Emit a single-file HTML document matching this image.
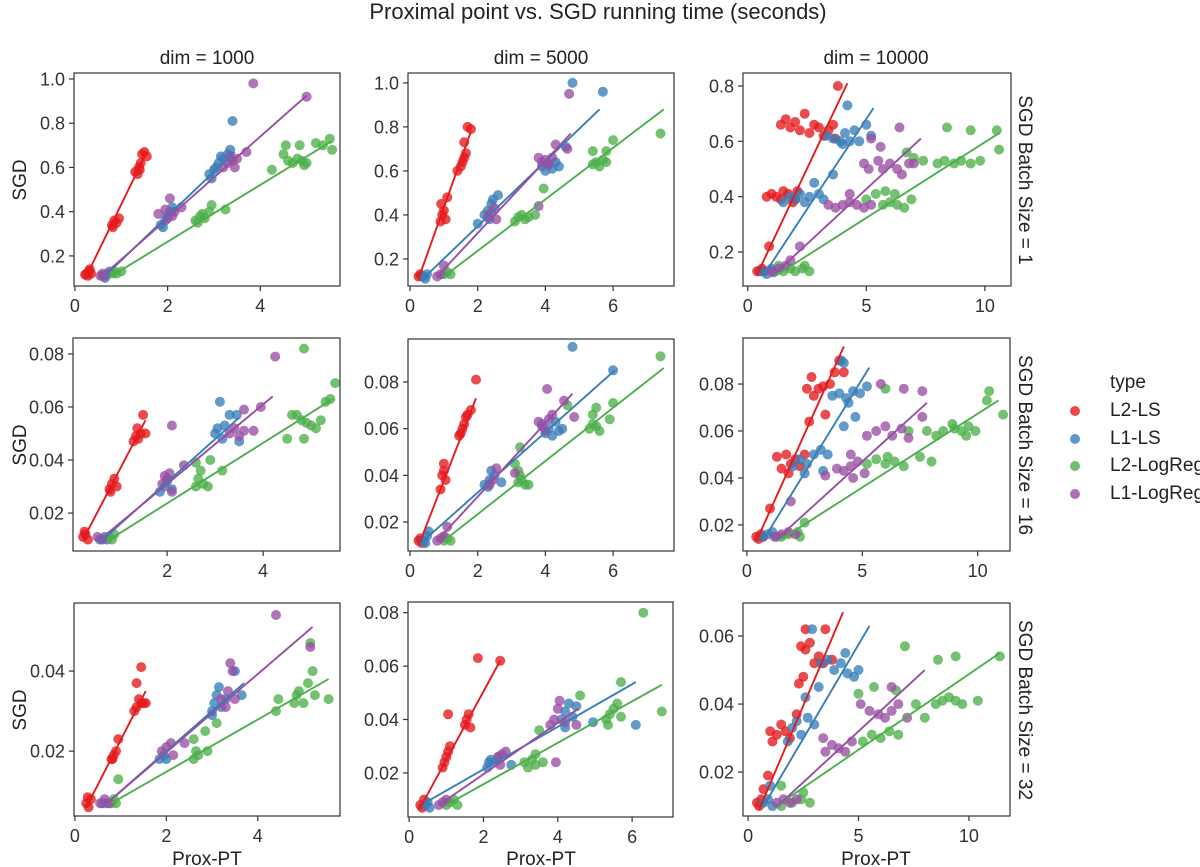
<!DOCTYPE html>
<html><head><meta charset="utf-8"><style>
html,body{margin:0;padding:0;background:#fff;}
svg{display:block;font-family:"Liberation Sans",sans-serif;}
</style></head><body>
<svg id="chart" width="1200" height="867" viewBox="0 0 1200 867" xmlns="http://www.w3.org/2000/svg">
<text x="598" y="19" font-size="22" text-anchor="middle" fill="#222">Proximal point vs. SGD running time (seconds)</text>
<text x="207" y="64" font-size="19" text-anchor="middle" fill="#222">dim = 1000</text>
<text x="541" y="64" font-size="19" text-anchor="middle" fill="#222">dim = 5000</text>
<text x="876" y="64" font-size="19" text-anchor="middle" fill="#222">dim = 10000</text>
<text transform="translate(1019,180) rotate(90)" font-size="19" text-anchor="middle" fill="#222">SGD Batch Size = 1</text>
<text transform="translate(1019,445) rotate(90)" font-size="19" text-anchor="middle" fill="#222">SGD Batch Size = 16</text>
<text transform="translate(1019,710) rotate(90)" font-size="19" text-anchor="middle" fill="#222">SGD Batch Size = 32</text>
<text transform="translate(26,180) rotate(-90)" font-size="19" text-anchor="middle" fill="#222">SGD</text>
<text transform="translate(26,445) rotate(-90)" font-size="19" text-anchor="middle" fill="#222">SGD</text>
<text transform="translate(26,710) rotate(-90)" font-size="19" text-anchor="middle" fill="#222">SGD</text>
<text x="207" y="865" font-size="19" text-anchor="middle" fill="#222">Prox-PT</text>
<text x="541" y="865" font-size="19" text-anchor="middle" fill="#222">Prox-PT</text>
<text x="876" y="865" font-size="19" text-anchor="middle" fill="#222">Prox-PT</text>
<g>
<text x="1110" y="388" font-size="19" fill="#222">type</text>
<circle cx="1075" cy="411" r="5" fill="#e41a1c" fill-opacity="0.8"/>
<text x="1110" y="416" font-size="19" fill="#222">L2-LS</text>
<circle cx="1075" cy="439" r="5" fill="#377eb8" fill-opacity="0.8"/>
<text x="1110" y="444" font-size="19" fill="#222">L1-LS</text>
<circle cx="1075" cy="466" r="5" fill="#4daf4a" fill-opacity="0.8"/>
<text x="1110" y="471" font-size="19" fill="#222">L2-LogReg</text>
<circle cx="1075" cy="494" r="5" fill="#984ea3" fill-opacity="0.8"/>
<text x="1110" y="499" font-size="19" fill="#222">L1-LogReg</text>
</g>
</svg>
<script>
const seriesNames = ["L2-LS","L1-LS","L2-LogReg","L1-LogReg"];
const seriesColors = ["#e41a1c","#377eb8","#4daf4a","#984ea3"];

// r1c1 dim=1000 batch=1
const r1c1_l2ls = [[0.25,0.12],[0.3,0.13],[0.28,0.11],[0.35,0.12],[0.22,0.115],[0.32,0.14],[0.8,0.34],[0.85,0.36],[0.9,0.35],[0.95,0.37],[0.82,0.33],[1.3,0.58],[1.35,0.57],[1.38,0.6],[1.42,0.62],[1.45,0.66],[1.5,0.67],[1.55,0.65],[1.4,0.59]];
const r1c1_l1ls = [[0.6,0.11],[0.7,0.12],[0.75,0.13],[0.65,0.1],[1.85,0.34],[1.95,0.36],[2.0,0.38],[2.05,0.4],[1.9,0.33],[2.1,0.42],[2.9,0.57],[3.0,0.59],[3.05,0.6],[3.1,0.62],[3.2,0.64],[3.3,0.66],[3.35,0.68],[3.4,0.81],[3.15,0.65],[2.95,0.55]];
const r1c1_l2lr = [[0.8,0.12],[0.85,0.13],[0.9,0.12],[1.0,0.13],[2.6,0.36],[2.7,0.38],[2.75,0.39],[2.8,0.37],[2.9,0.4],[2.95,0.43],[2.65,0.35],[3.25,0.41],[4.25,0.59],[4.5,0.66],[4.55,0.7],[4.7,0.62],[4.8,0.64],[4.9,0.63],[4.95,0.61],[5.0,0.62],[4.85,0.7],[5.2,0.71],[5.35,0.7],[5.5,0.73],[5.55,0.68],[4.6,0.63]];
const r1c1_l1lr = [[0.55,0.11],[0.6,0.12],[0.65,0.11],[1.8,0.39],[1.95,0.41],[2.05,0.46],[2.1,0.38],[2.15,0.4],[2.3,0.42],[2.0,0.37],[3.2,0.6],[3.3,0.62],[3.4,0.63],[3.45,0.6],[3.35,0.65],[3.5,0.64],[3.7,0.67],[3.85,0.98],[5.0,0.92]];
const r1c1_fits = [[0.25,0.11,1.55,0.67],[0.6,0.1,3.45,0.67],[0.8,0.11,5.55,0.72],[0.6,0.11,5.0,0.925]];

// r1c2 dim=5000 batch=1
const r1c2_l2ls = [[0.25,0.12],[0.3,0.13],[0.35,0.12],[0.9,0.37],[0.95,0.4],[1.0,0.42],[0.92,0.45],[1.05,0.38],[1.1,0.48],[1.4,0.6],[1.5,0.62],[1.55,0.64],[1.6,0.66],[1.65,0.68],[1.6,0.73],[1.7,0.8],[1.8,0.79]];
const r1c2_l1ls = [[0.4,0.12],[0.45,0.11],[0.5,0.13],[2.0,0.36],[2.2,0.4],[2.3,0.42],[2.4,0.45],[2.45,0.47],[2.6,0.49],[2.35,0.38],[3.9,0.62],[4.0,0.6],[4.1,0.63],[4.2,0.61],[4.3,0.64],[4.4,0.62],[4.6,0.71],[4.8,1.0],[5.7,0.96]];
const r1c2_l2lr = [[1.0,0.13],[1.1,0.14],[1.2,0.13],[3.1,0.37],[3.2,0.39],[3.3,0.4],[3.4,0.38],[3.5,0.39],[3.7,0.4],[3.95,0.52],[5.4,0.63],[5.5,0.64],[5.6,0.62],[5.7,0.65],[5.8,0.64],[5.4,0.69],[5.8,0.69],[6.0,0.74],[7.4,0.77]];
const r1c2_l1lr = [[0.8,0.12],[0.9,0.13],[1.0,0.17],[2.3,0.39],[2.4,0.41],[2.5,0.43],[2.55,0.38],[3.8,0.66],[3.9,0.64],[4.0,0.65],[4.1,0.63],[4.2,0.66],[4.3,0.72],[4.65,0.7],[4.7,0.95],[3.8,0.44]];
const r1c2_fits = [[0.25,0.11,1.8,0.78],[0.45,0.12,5.6,0.88],[1.0,0.12,7.5,0.88],[0.8,0.12,4.75,0.77]];

// r1c3 dim=10000 batch=1
const r1c3_l2ls = [[0.4,0.13],[0.5,0.13],[0.6,0.14],[0.7,0.13],[0.9,0.22],[0.8,0.4],[1.0,0.41],[1.2,0.4],[1.4,0.39],[1.5,0.42],[1.7,0.41],[1.9,0.38],[2.1,0.42],[2.0,0.39],[1.4,0.66],[1.6,0.68],[1.8,0.65],[2.0,0.67],[2.2,0.64],[2.4,0.7],[2.6,0.63],[2.8,0.66],[3.0,0.65],[3.2,0.62],[3.4,0.64],[3.6,0.66],[3.8,0.8],[3.7,0.61]];
const r1c3_l1ls = [[0.6,0.13],[0.8,0.12],[1.0,0.14],[1.1,0.13],[1.5,0.38],[1.8,0.4],[2.0,0.39],[2.2,0.41],[2.4,0.38],[2.6,0.4],[2.8,0.45],[3.0,0.41],[3.2,0.39],[3.6,0.48],[3.3,0.62],[3.6,0.61],[3.9,0.6],[4.1,0.63],[4.3,0.6],[4.5,0.64],[4.7,0.6],[5.0,0.66],[5.2,0.62],[4.0,0.59],[4.2,0.73]];
const r1c3_l2lr = [[1.5,0.13],[1.8,0.14],[2.0,0.13],[2.3,0.14],[2.6,0.13],[2.4,0.15],[1.3,0.15],[5.0,0.39],[5.4,0.41],[5.7,0.37],[6.0,0.38],[6.3,0.37],[6.6,0.36],[6.9,0.39],[5.8,0.42],[6.2,0.41],[7.0,0.54],[7.4,0.53],[8.0,0.52],[8.3,0.53],[8.7,0.52],[9.0,0.53],[9.4,0.52],[9.8,0.53],[8.4,0.65],[9.4,0.64],[10.5,0.64],[10.6,0.57],[6.7,0.56]];
const r1c3_l1lr = [[1.0,0.13],[1.3,0.14],[1.6,0.15],[1.8,0.17],[2.2,0.22],[3.4,0.37],[3.7,0.36],[4.0,0.37],[4.3,0.38],[4.6,0.37],[4.9,0.36],[5.2,0.37],[4.3,0.41],[4.9,0.52],[5.1,0.5],[5.5,0.53],[5.7,0.5],[6.0,0.52],[6.3,0.5],[6.5,0.48],[6.8,0.52],[5.6,0.58],[5.2,0.61],[6.4,0.65],[7.0,0.52]];
const r1c3_fits = [[0.4,0.12,4.2,0.81],[0.7,0.12,5.3,0.72],[1.1,0.11,10.6,0.63],[1.0,0.11,7.3,0.61]];

// r2c1 dim=1000 batch=16
const r2c1_l2ls = [[0.25,0.011],[0.3,0.012],[0.35,0.01],[0.28,0.013],[0.8,0.029],[0.85,0.031],[0.9,0.033],[0.95,0.03],[0.82,0.028],[1.3,0.047],[1.35,0.049],[1.4,0.048],[1.45,0.05],[1.5,0.057],[1.55,0.05],[1.38,0.052]];
const r2c1_l1ls = [[0.6,0.01],[0.7,0.011],[0.75,0.01],[1.85,0.028],[1.95,0.03],[2.0,0.032],[2.1,0.029],[3.0,0.05],[3.05,0.052],[3.1,0.062],[3.15,0.048],[3.2,0.053],[3.3,0.057],[3.45,0.057],[3.5,0.047]];
const r2c1_l2lr = [[0.8,0.011],[0.85,0.01],[0.9,0.012],[2.6,0.03],[2.65,0.033],[2.7,0.036],[2.75,0.031],[2.6,0.039],[2.9,0.04],[2.85,0.03],[3.15,0.036],[4.5,0.048],[4.6,0.057],[4.7,0.057],[4.8,0.055],[4.85,0.048],[4.9,0.054],[5.0,0.053],[5.1,0.052],[4.85,0.082],[5.3,0.062],[5.4,0.063],[5.5,0.069],[5.2,0.055]];
const r2c1_l1lr = [[0.55,0.011],[0.65,0.01],[1.9,0.031],[1.95,0.034],[2.0,0.033],[2.05,0.035],[2.1,0.028],[2.1,0.053],[2.35,0.038],[3.3,0.05],[3.4,0.052],[3.5,0.049],[3.6,0.051],[3.6,0.059],[3.8,0.051],[3.95,0.06],[4.25,0.079]];
const r2c1_fits = [[0.25,0.01,1.55,0.055],[0.6,0.009,3.5,0.056],[0.8,0.01,5.45,0.063],[0.6,0.01,4.2,0.064]];

// r2c2 dim=5000 batch=16
const r2c2_l2ls = [[0.25,0.012],[0.3,0.013],[0.35,0.011],[0.9,0.034],[0.95,0.04],[1.0,0.042],[1.05,0.038],[1.0,0.045],[1.5,0.058],[1.55,0.06],[1.6,0.062],[1.65,0.065],[1.7,0.066],[1.8,0.068],[1.45,0.057],[1.95,0.081]];
const r2c2_l1ls = [[0.4,0.012],[0.45,0.011],[0.5,0.014],[0.55,0.016],[2.3,0.035],[2.35,0.038],[2.4,0.042],[2.5,0.04],[2.2,0.036],[2.7,0.037],[3.9,0.062],[4.0,0.058],[4.1,0.06],[4.2,0.057],[4.3,0.063],[4.4,0.059],[4.5,0.06],[4.8,0.095],[6.0,0.085]];
const r2c2_l2lr = [[1.0,0.012],[1.1,0.013],[1.2,0.012],[3.1,0.045],[3.2,0.037],[3.25,0.04],[3.3,0.038],[3.4,0.036],[3.5,0.036],[3.25,0.052],[3.2,0.042],[5.3,0.06],[5.4,0.062],[5.5,0.061],[5.4,0.066],[5.5,0.069],[5.6,0.059],[5.9,0.064],[6.0,0.071],[4.65,0.07],[7.4,0.091]];
const r2c2_l1lr = [[0.8,0.012],[0.9,0.013],[1.0,0.014],[1.1,0.018],[2.35,0.036],[2.45,0.038],[2.55,0.043],[3.1,0.041],[3.8,0.063],[3.9,0.061],[4.0,0.059],[4.1,0.064],[4.05,0.077],[4.55,0.072],[4.85,0.065],[4.2,0.066]];
const r2c2_fits = [[0.28,0.011,1.95,0.073],[0.4,0.012,6.05,0.085],[1.0,0.012,7.5,0.086],[0.8,0.012,4.8,0.075]];

// r2c3 dim=10000 batch=16
const r2c3_l2ls = [[0.4,0.015],[0.5,0.014],[0.6,0.016],[0.7,0.015],[1.0,0.027],[1.3,0.049],[1.5,0.044],[1.7,0.05],[1.9,0.046],[2.1,0.048],[2.3,0.045],[2.5,0.05],[1.8,0.042],[2.7,0.064],[2.9,0.075],[3.1,0.078],[3.3,0.079],[2.6,0.078],[3.6,0.08],[3.8,0.085],[4.0,0.09],[4.2,0.085],[2.8,0.083],[3.4,0.067]];
const r2c3_l1ls = [[0.7,0.015],[0.9,0.016],[1.1,0.017],[1.3,0.015],[2.0,0.045],[2.3,0.048],[2.6,0.046],[2.9,0.05],[3.2,0.052],[3.5,0.05],[2.5,0.042],[3.3,0.043],[3.7,0.075],[4.0,0.076],[4.3,0.074],[4.6,0.077],[4.9,0.076],[5.2,0.079],[4.4,0.072],[4.7,0.066],[4.1,0.09],[4.2,0.089],[4.2,0.062]];
const r2c3_l2lr = [[1.5,0.015],[1.8,0.016],[2.2,0.017],[2.5,0.021],[2.3,0.015],[5.2,0.046],[5.6,0.048],[6.0,0.046],[6.4,0.047],[6.8,0.045],[6.1,0.049],[7.5,0.049],[8.0,0.047],[6.0,0.078],[7.8,0.06],[8.2,0.058],[8.5,0.06],[9.0,0.061],[9.3,0.06],[9.6,0.062],[9.9,0.06],[8.9,0.063],[9.5,0.058],[10.4,0.073],[10.5,0.077],[11.1,0.067],[7.0,0.06]];
const r2c3_l1lr = [[1.2,0.015],[1.5,0.016],[1.8,0.017],[2.1,0.016],[1.9,0.03],[3.4,0.041],[3.9,0.044],[4.2,0.043],[4.5,0.045],[4.8,0.047],[4.6,0.04],[5.1,0.042],[4.5,0.05],[5.2,0.058],[5.6,0.06],[6.0,0.062],[6.3,0.058],[6.7,0.061],[7.0,0.057],[5.8,0.08],[6.8,0.078],[7.6,0.077],[7.6,0.066]];
const r2c3_fits = [[0.45,0.014,4.2,0.096],[0.8,0.015,5.3,0.087],[1.5,0.014,10.9,0.073],[1.3,0.014,7.8,0.072]];

// r3c1 dim=1000 batch=32
const r3c1_l2ls = [[0.25,0.007],[0.3,0.006],[0.35,0.008],[0.28,0.0085],[0.8,0.018],[0.85,0.019],[0.9,0.02],[0.95,0.023],[0.82,0.018],[1.3,0.03],[1.35,0.031],[1.4,0.033],[1.45,0.032],[1.5,0.032],[1.35,0.037],[1.45,0.041],[1.55,0.032]];
const r3c1_l1ls = [[0.6,0.007],[0.7,0.007],[1.85,0.018],[1.95,0.019],[2.0,0.018],[3.0,0.03],[3.05,0.032],[3.1,0.034],[3.15,0.036],[3.2,0.031],[3.3,0.033],[3.5,0.04],[3.65,0.034],[3.0,0.029]];
const r3c1_l2lr = [[0.8,0.007],[0.85,0.008],[0.9,0.007],[0.95,0.013],[2.6,0.018],[2.65,0.02],[2.7,0.019],[2.6,0.023],[2.85,0.025],[2.9,0.02],[3.1,0.027],[4.4,0.03],[4.45,0.033],[4.8,0.032],[4.85,0.034],[4.9,0.035],[5.0,0.032],[5.1,0.037],[5.15,0.047],[5.2,0.04],[5.25,0.034],[5.55,0.033]];
const r3c1_l1lr = [[0.55,0.007],[0.65,0.008],[0.75,0.007],[1.9,0.02],[2.0,0.021],[2.1,0.022],[2.15,0.019],[2.4,0.022],[3.2,0.033],[3.3,0.031],[3.35,0.035],[3.4,0.042],[3.45,0.04],[3.5,0.033],[4.4,0.054],[5.15,0.046]];
const r3c1_fits = [[0.25,0.006,1.55,0.035],[0.6,0.006,3.7,0.037],[0.8,0.007,5.55,0.038],[0.6,0.006,5.2,0.051]];

// r3c2 dim=5000 batch=32
const r3c2_l2ls = [[0.3,0.008],[0.35,0.007],[0.4,0.01],[0.9,0.022],[0.95,0.024],[1.0,0.026],[1.05,0.028],[1.1,0.03],[1.05,0.042],[1.5,0.038],[1.55,0.04],[1.6,0.042],[1.65,0.037],[1.85,0.063],[2.45,0.062]];
const r3c2_l1ls = [[0.45,0.008],[0.5,0.009],[0.55,0.007],[2.1,0.022],[2.2,0.025],[2.3,0.024],[2.4,0.026],[2.15,0.024],[2.75,0.023],[4.1,0.04],[4.2,0.043],[4.3,0.046],[4.4,0.041],[4.5,0.045],[4.95,0.039],[6.1,0.038],[4.2,0.037]];
const r3c2_l2lr = [[1.0,0.008],[1.1,0.009],[1.2,0.01],[1.3,0.008],[3.1,0.024],[3.2,0.022],[3.3,0.025],[3.4,0.027],[3.5,0.036],[3.6,0.024],[3.4,0.023],[5.3,0.04],[5.4,0.042],[5.5,0.044],[5.35,0.038],[5.6,0.046],[5.7,0.041],[4.6,0.049],[5.7,0.054],[6.3,0.08],[6.8,0.043]];
const r3c2_l1lr = [[0.8,0.008],[0.9,0.009],[1.0,0.01],[2.4,0.026],[2.5,0.027],[2.6,0.028],[2.45,0.023],[3.8,0.038],[3.9,0.04],[4.0,0.044],[4.05,0.047],[4.2,0.039],[4.5,0.038],[3.95,0.024]];
const r3c2_fits = [[0.3,0.007,2.45,0.062],[0.45,0.009,6.1,0.054],[1.0,0.008,6.8,0.053],[0.8,0.008,4.55,0.044]];

// r3c3 dim=10000 batch=32
const r3c3_l2ls = [[0.4,0.011],[0.5,0.01],[0.6,0.012],[0.7,0.015],[0.9,0.019],[1.0,0.032],[1.3,0.031],[1.5,0.034],[1.7,0.032],[1.9,0.03],[1.1,0.029],[2.2,0.037],[2.3,0.046],[2.4,0.057],[2.6,0.056],[2.8,0.058],[3.0,0.052],[3.2,0.054],[3.4,0.052],[2.5,0.048],[2.6,0.062],[3.5,0.062],[3.8,0.053]];
const r3c3_l1ls = [[0.7,0.011],[0.9,0.012],[1.1,0.01],[1.0,0.016],[2.0,0.033],[2.2,0.035],[2.4,0.031],[2.7,0.036],[3.0,0.034],[1.8,0.029],[3.3,0.052],[3.6,0.053],[3.9,0.05],[4.2,0.052],[4.5,0.049],[4.8,0.048],[3.2,0.045],[2.9,0.062],[4.4,0.055],[5.0,0.05],[2.6,0.042]];
const r3c3_l2lr = [[1.5,0.01],[2.0,0.011],[2.4,0.012],[2.8,0.011],[1.5,0.016],[2.5,0.014],[5.2,0.029],[5.6,0.031],[6.0,0.03],[6.4,0.032],[6.8,0.031],[5.0,0.043],[5.7,0.045],[6.7,0.044],[7.1,0.057],[7.6,0.04],[8.0,0.036],[8.5,0.04],[8.8,0.041],[9.1,0.042],[9.4,0.041],[9.7,0.04],[10.4,0.041],[8.6,0.053],[9.4,0.054],[11.4,0.054]];
const r3c3_l1lr = [[1.3,0.011],[1.6,0.012],[1.9,0.011],[2.2,0.012],[3.5,0.026],[3.8,0.028],[4.1,0.027],[4.4,0.026],[4.7,0.029],[3.4,0.03],[5.1,0.04],[5.5,0.038],[5.9,0.037],[6.2,0.036],[6.5,0.038],[6.8,0.04],[6.5,0.045],[7.2,0.036]];
const r3c3_fits = [[0.5,0.009,4.3,0.067],[0.7,0.01,5.5,0.063],[1.5,0.011,11.4,0.055],[1.5,0.011,8.0,0.05]];

// tick values per panel
const r1c1_xticks=[0,2,4], r1c1_yticks=[0.2,0.4,0.6,0.8,1.0];
const r1c2_xticks=[0,2,4,6], r1c2_yticks=[0.2,0.4,0.6,0.8,1.0];
const r1c3_xticks=[0,5,10], r1c3_yticks=[0.2,0.4,0.6,0.8];
const r2c1_xticks=[2,4], r2c1_yticks=[0.02,0.04,0.06,0.08];
const r2c2_xticks=[0,2,4,6], r2c2_yticks=[0.02,0.04,0.06,0.08];
const r2c3_xticks=[0,5,10], r2c3_yticks=[0.02,0.04,0.06,0.08];
const r3c1_xticks=[0,2,4], r3c1_yticks=[0.02,0.04];
const r3c2_xticks=[0,2,4,6], r3c2_yticks=[0.02,0.04,0.06,0.08];
const r3c3_xticks=[0,5,10], r3c3_yticks=[0.02,0.04,0.06];

const NS="http://www.w3.org/2000/svg";
const svg=document.getElementById('chart');
function mk(tag,attrs,parent){const e=document.createElementNS(NS,tag);for(const k in attrs)e.setAttribute(k,attrs[k]);parent.appendChild(e);return e;}

const panels=[
 {id:'r1c1',box:[74,73,340,286],dom:[-0.02,5.72,0.064,1.027],s:[r1c1_l2ls,r1c1_l1ls,r1c1_l2lr,r1c1_l1lr],f:r1c1_fits,xt:r1c1_xticks,yt:r1c1_yticks,yd:1},
 {id:'r1c2',box:[408,73,674,286],dom:[-0.06,7.8,0.077,1.045],s:[r1c2_l2ls,r1c2_l1ls,r1c2_l2lr,r1c2_l1lr],f:r1c2_fits,xt:r1c2_xticks,yt:r1c2_yticks,yd:1},
 {id:'r1c3',box:[743,73,1011,286],dom:[-0.2,11.1,0.077,0.847],s:[r1c3_l2ls,r1c3_l1ls,r1c3_l2lr,r1c3_l1lr],f:r1c3_fits,xt:r1c3_xticks,yt:r1c3_yticks,yd:1},
 {id:'r2c1',box:[73,338,340,551],dom:[0.04,5.6,0.0057,0.086],s:[r2c1_l2ls,r2c1_l1ls,r2c1_l2lr,r2c1_l1lr],f:r2c1_fits,xt:r2c1_xticks,yt:r2c1_yticks,yd:2},
 {id:'r2c2',box:[408,339,674,551],dom:[-0.06,7.8,0.0076,0.0984],s:[r2c2_l2ls,r2c2_l1ls,r2c2_l2lr,r2c2_l1lr],f:r2c2_fits,xt:r2c2_xticks,yt:r2c2_yticks,yd:2},
 {id:'r2c3',box:[743,338,1010,551],dom:[-0.17,11.4,0.0089,0.0996],s:[r2c3_l2ls,r2c3_l1ls,r2c3_l2lr,r2c3_l1lr],f:r2c3_fits,xt:r2c3_xticks,yt:r2c3_yticks,yd:2},
 {id:'r3c1',box:[74,603,340,816],dom:[-0.02,5.8,0.0038,0.057],s:[r3c1_l2ls,r3c1_l1ls,r3c1_l2lr,r3c1_l1lr],f:r3c1_fits,xt:r3c1_xticks,yt:r3c1_yticks,yd:2},
 {id:'r3c2',box:[408,602,673,817],dom:[-0.03,7.1,0.0035,0.084],s:[r3c2_l2ls,r3c2_l1ls,r3c2_l2lr,r3c2_l1lr],f:r3c2_fits,xt:r3c2_xticks,yt:r3c2_yticks,yd:2},
 {id:'r3c3',box:[743,603,1010,816],dom:[-0.23,11.86,0.0071,0.0697],s:[r3c3_l2ls,r3c3_l1ls,r3c3_l2lr,r3c3_l1lr],f:r3c3_fits,xt:r3c3_xticks,yt:r3c3_yticks,yd:2}
];
const sKeys=['l2-ls','l1-ls','l2-logreg','l1-logreg'];

panels.forEach(p=>{
  const [x0,y0,x1,y1]=p.box,[dx0,dx1,dy0,dy1]=p.dom;
  const X=v=>x0+(v-dx0)/(dx1-dx0)*(x1-x0);
  const Y=v=>y1-(v-dy0)/(dy1-dy0)*(y1-y0);
  const g=mk('g',{},svg);
  
  
  const cid='clip-'+p.id;
  const cp=mk('clipPath',{id:cid},g);
  mk('rect',{x:x0,y:y0,width:x1-x0,height:y1-y0},cp);
  const plot=mk('g',{'clip-path':'url(#'+cid+')'},g);
  p.s.forEach((pts,si)=>{
    const sg=mk('g',{},plot);
    
    
    pts.forEach(pt=>{
      const c=mk('circle',{cx:X(pt[0]).toFixed(1),cy:Y(pt[1]).toFixed(1),r:5,fill:seriesColors[si],'fill-opacity':0.78},sg);
      
      
    });
  });
  p.f.forEach((f,si)=>{
    const l=mk('line',{x1:X(f[0]),y1:Y(f[1]),x2:X(f[2]),y2:Y(f[3]),stroke:seriesColors[si],'stroke-width':1.9},plot);
    
    
  });
  const fr=mk('rect',{x:x0,y:y0,width:x1-x0,height:y1-y0,fill:'none',stroke:'#333','stroke-width':1.2},g);
  
  
  p.xt.forEach(v=>{
    const x=X(v);
    mk('line',{x1:x,y1:y1,x2:x,y2:y1+5,stroke:'#333','stroke-width':1.2},g);
    const t=mk('text',{x:x,y:y1+26,'font-size':18,'text-anchor':'middle',fill:'#333'},g);
    
    
    t.textContent=String(v);
  });
  p.yt.forEach(v=>{
    const y=Y(v);
    mk('line',{x1:x0-5,y1:y,x2:x0,y2:y,stroke:'#333','stroke-width':1.2},g);
    const t=mk('text',{x:x0-9,y:y+6.5,'font-size':18,'text-anchor':'end',fill:'#333'},g);
    
    
    t.textContent=v.toFixed(p.yd);
  });
});
</script>
</body></html>
